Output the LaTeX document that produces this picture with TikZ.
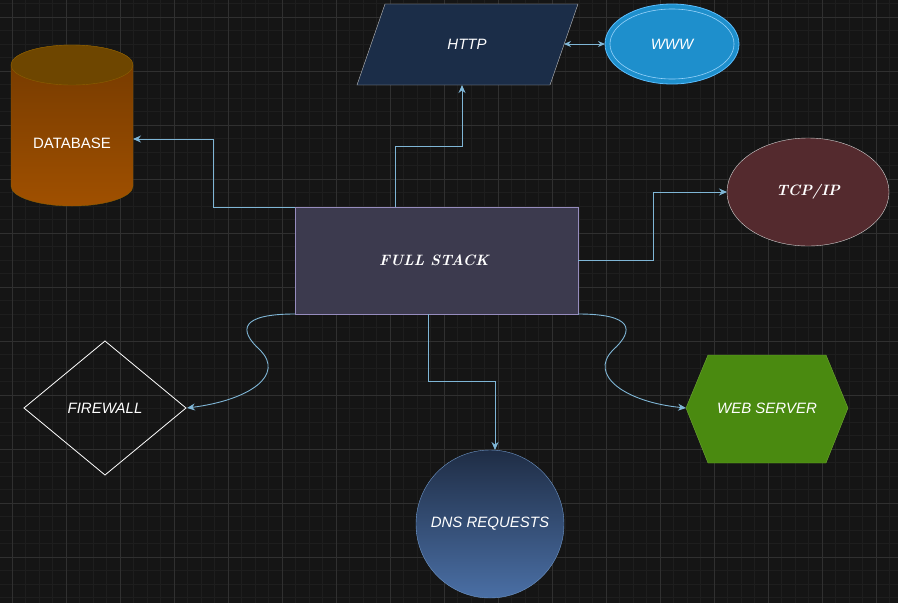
\documentclass[tikz,border=0pt]{standalone}
\usepackage{fontspec}
\newfontfamily\sans{Liberation Sans}
\usetikzlibrary{arrows.meta,shapes.geometric}
\definecolor{bg}{HTML}{151515}
\definecolor{gmin}{HTML}{1E1E1E}
\definecolor{gmaj}{HTML}{303030}
\definecolor{edge}{HTML}{7FB6D6}
\begin{document}
\begin{tikzpicture}[x=1pt,y=-1pt,
  conn/.style={draw=edge,line width=0.9pt,-{Stealth[length=8pt,width=7pt]}},
  lbl/.style={text=white,font=\sans\itshape\fontsize{15}{17}\selectfont},
  slbl/.style={text=white,font=\bfseries\itshape\fontsize{15}{17}\selectfont}]
\fill[bg] (0,0) rectangle (898,603);
\useasboundingbox (0,0) rectangle (898,603);
\foreach \x in {-1.5,12,...,898}{\draw[gmin,line width=0.5pt] (\x,0)--(\x,603);}
\foreach \y in {3.5,17,...,603}{\draw[gmin,line width=0.5pt] (0,\y)--(898,\y);}
\foreach \x in {12,66,...,898}{\draw[gmaj,line width=0.7pt] (\x,0)--(\x,603);}
\foreach \y in {17,71,...,603}{\draw[gmaj,line width=0.7pt] (0,\y)--(898,\y);}
% database
\shade[top color=orange!45!black,bottom color={rgb,255:red,160;green,80;blue,0},draw={rgb,255:red,140;green,95;blue,0}]
  (11,65) -- (11,186) arc[start angle=180,end angle=0,x radius=61,y radius=20] -- (133,65) arc[start angle=0,end angle=-180,x radius=61,y radius=20];
\draw[fill={rgb,255:red,110;green,70;blue,0},draw={rgb,255:red,140;green,95;blue,0}] (72,65) ellipse[x radius=61,y radius=20];
\node[text=white,font=\sans\fontsize{15}{17}\selectfont] (db) at (72,143) {DATABASE};
\coordinate (dbin) at (133,139);
% http
\draw[fill={rgb,255:red,27;green,45;blue,72},draw={rgb,255:red,190;green,190;blue,190}] (385,4)--(578,4)--(550,85)--(357,85)--cycle;
\node[lbl] (http) at (467,44) {HTTP};
% www
\draw[fill={rgb,255:red,30;green,143;blue,204},draw={rgb,255:red,90;green,190;blue,255},line width=0.8pt] (672,44) ellipse[x radius=67,y radius=40];
\draw[draw={rgb,255:red,150;green,210;blue,250},line width=0.6pt] (672,44) ellipse[x radius=62,y radius=35];
\node[lbl] (www) at (672,44) {WWW};
% tcp
\draw[fill={rgb,255:red,84;green,42;blue,46},draw={rgb,255:red,210;green,210;blue,210}] (808,192) ellipse[x radius=81,y radius=54];
\node[slbl] (tcp) at (808,192) {TCP/IP};
% full stack
\draw[fill={rgb,255:red,60;green,58;blue,78},draw={rgb,255:red,150;green,140;blue,190}] (295,207) rectangle (578,314);
\node[slbl] (fs) at (434,260) {FULL STACK};
% firewall
\draw[draw=white,line width=0.8pt] (105,341)--(186,408)--(105,475)--(24,408)--cycle;
\node[lbl] (fw) at (105,408) {FIREWALL};
% web server
\draw[fill={rgb,255:red,74;green,138;blue,16},draw={rgb,255:red,110;green,170;blue,50}] (686,408)--(708,355)--(826,355)--(848,408)--(826,463)--(708,463)--cycle;
\node[lbl] (ws) at (767,408) {WEB SERVER};
% dns
\shade[top color={rgb,255:red,31;green,45;blue,69},bottom color={rgb,255:red,74;green,111;blue,165}] (490,524) circle[radius=74];
\draw[draw={rgb,255:red,110;green,150;blue,200}] (490,524) circle[radius=74];
\node[lbl] (dns) at (490,524) {DNS REQUESTS};
% connectors
\draw[conn] (295,207) -- (213,207) -- (213,139) -- (dbin);
\draw[conn] (395,207) -- (395,146) -- (462,146) -- (462,85);
\draw[draw=edge,line width=0.9pt,{Stealth[length=7pt,width=6pt]}-{Stealth[length=7pt,width=6pt]}] (564,44) -- (605,44);
\draw[conn] (578,260) -- (653,260) -- (653,192) -- (727,192);
\draw[conn] (428,314) -- (428,381) -- (495,381) -- (495,450);
\draw[conn] (295,314) .. controls (240,314) and (238,330) .. (260,350) .. controls (285,375) and (250,400) .. (187,408);
\draw[conn] (578,314) .. controls (633,314) and (635,330) .. (613,350) .. controls (588,375) and (625,402) .. (686,408);
\end{tikzpicture}
\end{document}
